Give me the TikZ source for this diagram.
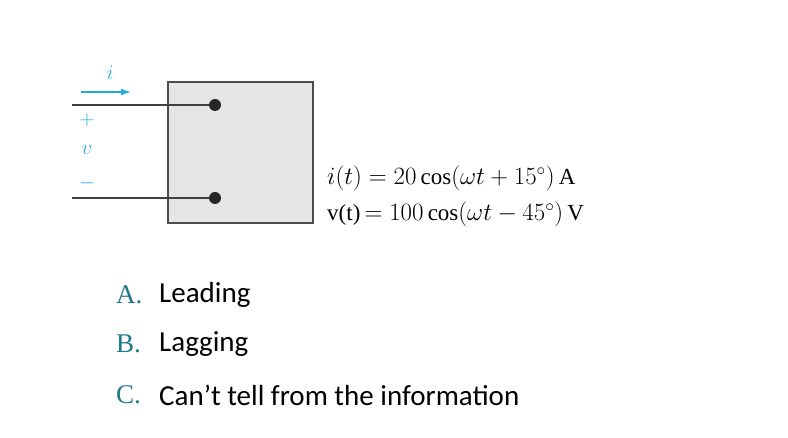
\documentclass[tikz,border=0pt]{standalone}
\usepackage{fontspec}
\setmainfont{Liberation Serif}
\newfontfamily\carlitofont{Carlito}
\usetikzlibrary{arrows.meta}
\definecolor{cblue}{RGB}{40,170,225}
\definecolor{optteal}{RGB}{30,120,140}
\begin{document}
\begin{tikzpicture}[x=1pt,y=-1pt,
  wire/.style={draw=black!75,line width=1.3pt},
  dotn/.style={circle,fill=black!85,inner sep=0pt,minimum size=12pt},
  blue/.style={text=cblue,font=\fontsize{22}{22}\selectfont},
  eq/.style={anchor=west,font=\fontsize{23}{23}\selectfont,inner sep=0pt},
  lab/.style={anchor=west,text=optteal,font=\fontsize{27}{27}\selectfont,inner sep=0pt},
  opt/.style={anchor=west,font=\carlitofont\fontsize{29}{29}\selectfont,inner sep=0pt}]
\useasboundingbox (0,0) rectangle (788,438);
\node[draw=black!70,fill=black!10,line width=1.3pt,minimum width=145pt,minimum height=141pt,inner sep=0pt] (box) at (240.5,152.5) {};
\coordinate (w1) at (72,105);
\coordinate (w2) at (72,198);
\node[dotn] (d1) at (215,105) {};
\node[dotn] (d2) at (215,198) {};
\draw[wire] (w1) -- (d1);
\draw[wire] (w2) -- (d2);
\coordinate (a1) at (81,92);
\coordinate (a2) at (131,92);
\draw[cblue,line width=1.3pt,-{Latex[length=10pt,width=7pt]}] (a1) -- (a2);
\node[blue] (i) at (110,73) {$i$};
\node[blue] (p) at (87,120) {$+$};
\node[blue] (v) at (87,150) {$v$};
\node[blue] (m) at (87,183) {$-$};
\node[eq] (e1) at (327,178) {$i(t)=20\cos(\omega t+15^\circ)\,\mathrm{A}$};
\node[eq] (e2) at (327,214) {v(t)$\,=100\cos(\omega t-45^\circ)\,\mathrm{V}$};
\node[lab] (la) at (116,295) {A.};
\node[opt] (oa) at (159,295) {Leading};
\node[lab] (lb) at (116,344) {B.};
\node[opt] (ob) at (159,344) {Lagging};
\node[lab] (lc) at (116,395) {C.};
\node[opt] (oc) at (159,395) {Can’t tell from the information};
\end{tikzpicture}
\end{document}
